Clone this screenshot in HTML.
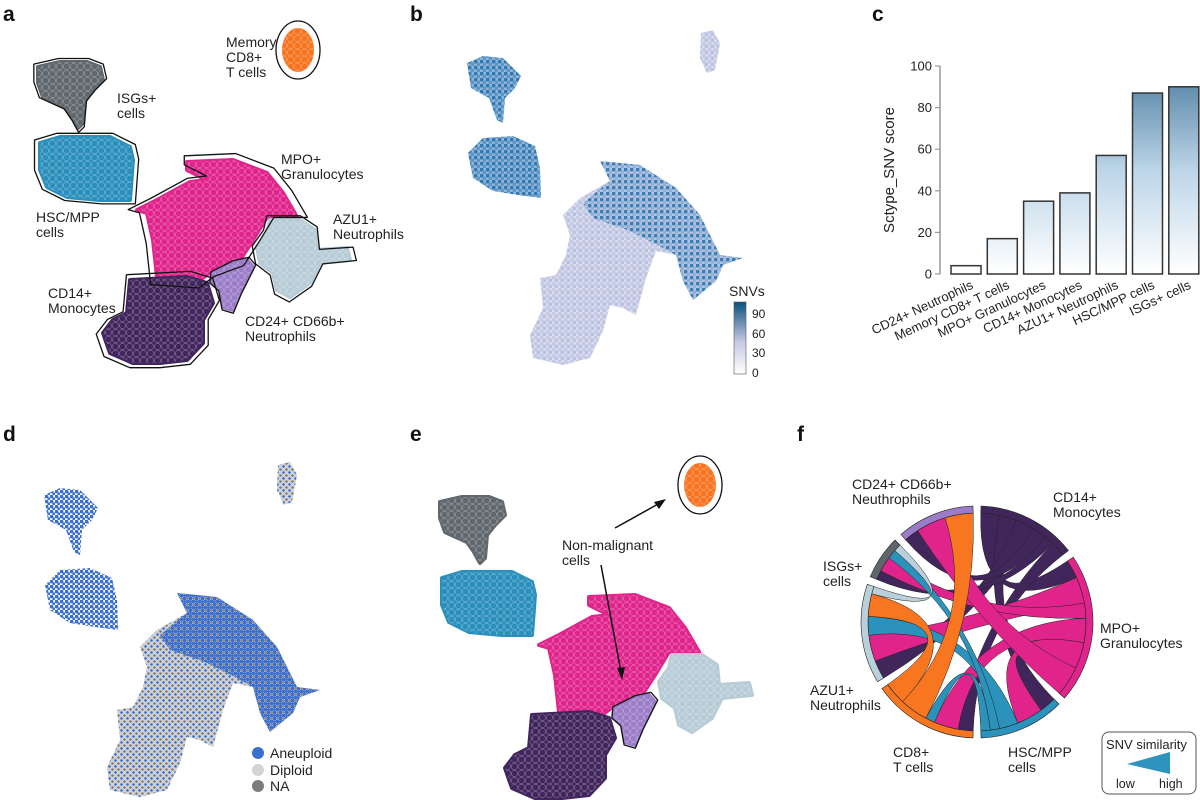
<!DOCTYPE html>
<html><head><meta charset="utf-8"><style>
html,body{margin:0;padding:0;background:#fff;}
svg{display:block;font-family:"Liberation Sans",Arial,sans-serif;}
.lbl{font-size:14px;fill:#222;}
.pl{font-size:21px;font-weight:bold;fill:#111;}
</style></head><body>
<svg id="fig" width="1200" height="800" viewBox="0 0 1200 800">
<defs>
<pattern id="cells" width="7" height="7" patternUnits="userSpaceOnUse"><circle cx="3.5" cy="3.5" r="3.2" fill="none" stroke="#fff" stroke-width="0.5" stroke-opacity="0.45"/></pattern>
<pattern id="dblue" width="5" height="5" patternUnits="userSpaceOnUse"><circle cx="1.5" cy="1.5" r="1.9" fill="#3a6fd0"/><circle cx="4" cy="4" r="1.6" fill="#3a6fd0"/></pattern>
<pattern id="dbmix" width="6" height="6" patternUnits="userSpaceOnUse"><circle cx="1.5" cy="1.5" r="1.9" fill="#3a6fd0"/><circle cx="4.5" cy="4.5" r="1.9" fill="#3a6fd0"/><circle cx="4.5" cy="1.5" r="1.5" fill="#3a6fd0"/><circle cx="1.5" cy="4.5" r="1.5" fill="#8a8a8a"/></pattern>
<pattern id="dgrey" width="6" height="6" patternUnits="userSpaceOnUse"><circle cx="1.5" cy="1.5" r="1.9" fill="#cfcfcf"/><circle cx="4.5" cy="4.5" r="1.9" fill="#d2d2d2"/><circle cx="4.5" cy="1.5" r="1.4" fill="#7c7c7c"/><circle cx="1.5" cy="4.5" r="1.4" fill="#3a6fd0"/></pattern>
<pattern id="bblue" width="6" height="6" patternUnits="userSpaceOnUse"><rect width="6" height="6" fill="#93b6d8"/><circle cx="1.5" cy="1.5" r="2" fill="#2f7ab3"/><circle cx="4.5" cy="4.5" r="2" fill="#5f96c6"/></pattern>
<pattern id="blav" width="6" height="6" patternUnits="userSpaceOnUse"><rect width="6" height="6" fill="#d9dcee"/><circle cx="1.5" cy="1.5" r="2" fill="#c5c9e4"/><circle cx="4.5" cy="4.5" r="2" fill="#b9c2e0"/></pattern>
<pattern id="bedge" width="6" height="6" patternUnits="userSpaceOnUse"><rect width="6" height="6" fill="#b3c3e0"/><circle cx="1.5" cy="1.5" r="2" fill="#3d7fb4"/><circle cx="4.5" cy="4.5" r="2" fill="#8fb1d6"/></pattern>
<linearGradient id="barGrad" gradientUnits="userSpaceOnUse" x1="0" y1="274" x2="0" y2="66"><stop offset="0" stop-color="#ffffff"/><stop offset="0.5" stop-color="#bcd5e8"/><stop offset="1" stop-color="#4c7c9f"/></linearGradient>
<linearGradient id="cbGrad" x1="0" y1="1" x2="0" y2="0"><stop offset="0" stop-color="#ffffff"/><stop offset="0.45" stop-color="#c6c8e3"/><stop offset="1" stop-color="#08507e"/></linearGradient>
</defs>

<text class="pl" x="3" y="21">a</text>
<text class="pl" x="410" y="21">b</text>
<text class="pl" x="872" y="21">c</text>
<text class="pl" x="3" y="441">d</text>
<text class="pl" x="410" y="441">e</text>
<text class="pl" x="797" y="441">f</text>

<g id="panelA"></g>
<g id="panelE"></g>
<g id="panelD"></g>
<g id="panelB"></g>

<g class="lbl">
<text x="226" y="47"><tspan x="226">Memory</tspan><tspan x="226" dy="15">CD8+</tspan><tspan x="226" dy="15">T cells</tspan></text>
<text x="117" y="103"><tspan x="117">ISGs+</tspan><tspan x="117" dy="15">cells</tspan></text>
<text x="281" y="164"><tspan x="281">MPO+</tspan><tspan x="281" dy="15">Granulocytes</tspan></text>
<text x="36" y="222"><tspan x="36">HSC/MPP</tspan><tspan x="36" dy="15">cells</tspan></text>
<text x="333" y="224"><tspan x="333">AZU1+</tspan><tspan x="333" dy="15">Neutrophils</tspan></text>
<text x="48" y="298"><tspan x="48">CD14+</tspan><tspan x="48" dy="15">Monocytes</tspan></text>
<text x="245" y="326"><tspan x="245">CD24+  CD66b+</tspan><tspan x="245" dy="15">Neutrophils</tspan></text>
</g>

<g>
<text x="729" y="296" class="lbl">SNVs</text>
<rect x="734" y="302" width="12" height="72" fill="url(#cbGrad)" stroke="#555" stroke-width="0.6"/>
<g font-size="12" fill="#222">
<text x="752" y="318">90</text><text x="752" y="338">60</text><text x="752" y="357">30</text><text x="752" y="377">0</text>
</g>
</g>

<g>
<circle cx="258" cy="753" r="6" fill="#3a6fd0"/>
<text x="270" y="758" class="lbl">Aneuploid</text>
<circle cx="258" cy="770" r="6" fill="#d3d3d3"/>
<text x="270" y="775" class="lbl">Diploid</text>
<circle cx="258" cy="786" r="6" fill="#7b7b7b"/>
<text x="270" y="791" class="lbl">NA</text>
</g>

<g>
<text x="562" y="550" class="lbl"><tspan x="562">Non-malignant</tspan><tspan x="562" dy="15">cells</tspan></text>
<line x1="615" y1="528" x2="660" y2="503" stroke="#111" stroke-width="1.5"/>
<polygon points="666,499 654,502 659,509" fill="#111"/>
<line x1="601" y1="565" x2="621" y2="672" stroke="#111" stroke-width="1.5"/>
<polygon points="622,680 617,668 625,667" fill="#111"/>
</g>

<g id="panelC"></g>
<g id="panelF"></g>

<g>
<rect x="1102" y="732" width="94" height="62" rx="7" fill="#fff" stroke="#555" stroke-width="1"/>
<text x="1106" y="749" font-size="13" fill="#222">SNV similarity</text>
<polygon points="1127,764 1170,752 1170,774" fill="#2e93bd"/>
<text x="1116" y="788" font-size="12.5" fill="#222">low</text>
<text x="1159" y="788" font-size="12.5" fill="#222">high</text>
</g>
</svg>

<script>
const NS="http://www.w3.org/2000/svg";
function mk(tag,attrs,parent){const e=document.createElementNS(NS,tag);for(const k in attrs)e.setAttribute(k,attrs[k]);if(parent)parent.appendChild(e);return e;}
function pts(arr,dx,dy){return arr.map(p=>(p[0]+dx)+","+(p[1]+dy)).join(" ");}
function grow(arr,s){let cx=0,cy=0;arr.forEach(p=>{cx+=p[0];cy+=p[1];});cx/=arr.length;cy/=arr.length;return arr.map(p=>[cx+(p[0]-cx)*s,cy+(p[1]-cy)*s]);}

const shISG=[[38,67],[60,62],[87,62],[100,67],[103,80],[93,90],[85,100],[83,123],[78,128],[72,117],[65,107],[43,97],[38,83]];
const shHSC=[[40,143],[60,137],[110,137],[130,147],[133,160],[130,200],[100,200],[67,197],[47,187],[40,170]];
const shMPO=[[187,162],[233,160],[267,173],[283,193],[297,217],[267,217],[253,240],[240,260],[213,270],[200,280],[157,277],[153,240],[147,213],[137,210],[157,200],[190,182],[207,180],[187,170]];
const shAZU=[[270,220],[300,220],[315,230],[317,250],[347,248],[350,260],[320,263],[310,283],[290,297],[277,290],[273,273],[260,263],[257,247],[267,233]];
const shCD24=[[213,273],[233,263],[247,260],[253,267],[240,293],[233,310],[223,307],[220,290],[212,283]];
const shCD14=[[130,280],[187,277],[207,283],[213,303],[203,320],[203,343],[187,360],[160,363],[133,363],[110,353],[103,333],[113,320],[127,313]];
const clusters=[["isgs",shISG,"#60676d"],["hsc",shHSC,"#2b8fbc"],["mpo",shMPO,"#e0248c"],["azu1",shAZU,"#b7ccd7"],["cd24",shCD24,"#9a7cc8"],["cd14",shCD14,"#41255d"]];

function drawClusters(g,dx,dy,outlines){
  clusters.forEach(c=>{
    const p=mk("polygon",{points:pts(c[1],dx,dy),fill:c[2],"stroke":c[2],"stroke-width":4,"stroke-linejoin":"round"},g);
    
    
    mk("polygon",{points:pts(c[1],dx,dy),fill:"url(#cells)"},g);
  });
  const o=mk("ellipse",{cx:298+dx,cy:50+dy,rx:16,ry:22,fill:"#f7731f"},g);
  
  
  mk("ellipse",{cx:298+dx,cy:50+dy,rx:16,ry:22,fill:"url(#cells)"},g);
  outlines.forEach(k=>{
    if(k==="cd8"){mk("ellipse",{cx:298+dx,cy:50+dy,rx:22,ry:29,fill:"none",stroke:"#111","stroke-width":1.3},g);return;}
    const c=clusters.find(x=>x[0]===k);
    mk("polygon",{points:pts(grow(c[1],1.12),dx,dy),fill:"none",stroke:"#111","stroke-width":1.3,"stroke-linejoin":"round"},g);
  });
}
drawClusters(document.getElementById("panelA"),0,0,["isgs","hsc","mpo","azu1","cd24","cd14","cd8"]);
drawClusters(document.getElementById("panelE"),402,435,["cd24","cd8"]);

const dISG=[[44,495],[60,488],[80,490],[98,508],[92,520],[82,530],[80,555],[74,552],[66,530],[48,520]];
const dHSC=[[45,585],[60,570],[90,568],[112,578],[117,600],[118,630],[95,627],[70,623],[50,610]];
const dMain=[[177,593],[217,597],[253,620],[277,647],[287,667],[297,687],[320,690],[300,697],[293,713],[270,732],[260,713],[253,687],[233,683],[223,710],[213,747],[200,740],[187,737],[180,763],[167,790],[140,797],[110,790],[107,767],[120,740],[117,710],[133,707],[143,687],[147,667],[140,647],[157,630],[187,613]];
const dArch=[[177,593],[217,597],[253,620],[277,647],[287,667],[297,687],[320,690],[300,697],[293,713],[270,732],[260,713],[253,687],[233,676],[205,662],[170,650],[160,635],[187,613]];
const dCD8=[[278,465],[290,462],[297,475],[292,502],[284,505],[277,490]];
function drawSparse(g,dx,dy,fills,name){
  [["isgs",dISG,fills[0]],["hsc",dHSC,fills[0]],["main",dMain,fills[1]],["arch",dArch,fills[2]],["cd8",dCD8,fills[3]]].forEach(c=>{
    const p=mk("polygon",{points:pts(c[1],dx,dy),fill:c[2],"stroke-linejoin":"round"},g);
    
    
  });
}
drawSparse(document.getElementById("panelD"),0,0,["url(#dblue)","url(#dgrey)","url(#dbmix)","url(#dgrey)"],"ploidy");
drawSparse(document.getElementById("panelB"),423,-432,["url(#bblue)","url(#blav)","url(#bedge)","url(#blav)"],"snv");

const barCats=["CD24+ Neutrophils","Memory CD8+ T cells","MPO+ Granulocytes","CD14+ Monocytes","AZU1+ Neutrophils","HSC/MPP cells","ISGs+ cells"];
const barVals=[4,17,35,39,57,87,90];
const yTicks=[0,20,40,60,80,100];
(function(){
  const g=document.getElementById("panelC");
  const x0=945,step=36.3,bw=30,y0=274,y1=66,vmax=100;
  const ys=v=>y0-(v/vmax)*(y0-y1);
  const ax=mk("line",{x1:940,y1:ys(100),x2:940,y2:ys(0),stroke:"#999","stroke-width":1.5},g);
  
  
  yTicks.forEach(t=>{
    mk("line",{x1:935,y1:ys(t),x2:940,y2:ys(t),stroke:"#999","stroke-width":1.2},g);
    const tx=mk("text",{x:932,y:ys(t)+4.5,"text-anchor":"end","font-size":13,fill:"#222"},g);
    tx.textContent=t;
    
    
  });
  const yl=mk("text",{x:0,y:0,"font-size":15,fill:"#222","text-anchor":"middle",transform:"translate(894,170) rotate(-90)"},g);
  yl.textContent="Sctype_SNV score";
  
  
  barVals.forEach((v,i)=>{
    const bx=x0+6+i*step;
    const r=mk("rect",{x:bx,y:ys(v),width:bw,height:ys(0)-ys(v),fill:"url(#barGrad)",stroke:"#333","stroke-width":1.5},g);
    
    
    const cx=bx+bw/2+8;
    const t=mk("text",{x:0,y:0,"font-size":13,fill:"#222","text-anchor":"end",transform:`translate(${cx},288) rotate(-25)`},g);
    t.textContent=barCats[i];
    
    
  });
})();

const segNames=["CD14+ Monocytes","MPO+ Granulocytes","HSC/MPP cells","CD8+ T cells","AZU1+ Neutrophils","ISGs+ cells","CD24+ CD66b+ Neutrophils"];
const segColors=["#41265c","#e0248c","#2b93bb","#f7761f","#b9d0da","#5e666c","#9b7cc8"];
const chordSrc=[0,0,0,0,0,0,1,1,1,1,1,2,2,2,3,3,4];
const chordTgt=[1,2,4,6,5,3,4,5,3,2,6,4,5,3,6,4,5];
const chordW=[10,9,10,8,5,8,14,8,13,14,16,10,5,5,15,12,4];
(function(){
  const g=document.getElementById("panelF");
  const cx=977,cy=622,R=116,ri=109,gap=4,start=2;
  const n=segNames.length;
  const tot=new Array(n).fill(0);
  chordW.forEach((w,i)=>{tot[chordSrc[i]]+=w;tot[chordTgt[i]]+=w;});
  const sum=tot.reduce((a,b)=>a+b,0);
  const k=(360-n*gap)/sum;
  const segStart=[];let a=start;
  for(let i=0;i<n;i++){segStart.push(a);a+=tot[i]*k+gap;}
  const cursor=segStart.slice();
  const P=(ang,r)=>{const t=ang*Math.PI/180;return [cx+r*Math.sin(t),cy-r*Math.cos(t)];};
  const f=p=>p[0].toFixed(2)+" "+p[1].toFixed(2);
  const chordG=mk("g",{},g);
  chordW.forEach((w,i)=>{
    const s=chordSrc[i],t=chordTgt[i];
    const a0=cursor[s],a1=a0+w*k;cursor[s]=a1;
    const b0=cursor[t],b1=b0+w*k;cursor[t]=b1;
    const d=`M${f(P(a0,ri))} A${ri} ${ri} 0 0 1 ${f(P(a1,ri))} Q${cx} ${cy} ${f(P(b0,ri))} A${ri} ${ri} 0 0 1 ${f(P(b1,ri))} Q${cx} ${cy} ${f(P(a0,ri))} Z`;
    const p=mk("path",{d:d,fill:segColors[s],stroke:"#222","stroke-width":0.5},chordG);
    
    
  });
  for(let i=0;i<n;i++){
    const a0=segStart[i],a1=a0+tot[i]*k,large=(a1-a0)>180?1:0;
    const d=`M${f(P(a0,R))} A${R} ${R} 0 ${large} 1 ${f(P(a1,R))} L${f(P(a1,ri))} A${ri} ${ri} 0 ${large} 0 ${f(P(a0,ri))} Z`;
    const p=mk("path",{d:d,fill:segColors[i],stroke:"#222","stroke-width":0.6},g);
    
    
  }
  const labs=[[1053,502,["CD14+","Monocytes"]],[1100,633,["MPO+","Granulocytes"]],[1008,757,["HSC/MPP","cells"]],[893,757,["CD8+","T cells"]],[810,695,["AZU1+","Neutrophils"]],[823,571,["ISGs+","cells"]],[852,489,["CD24+ CD66b+","Neuthrophils"]]];
  labs.forEach((L,i)=>{
    const t=mk("text",{x:L[0],y:L[1],"font-size":14,fill:"#222"},g);
    
    
    L[2].forEach((s,j)=>{const ts=mk("tspan",{x:L[0],dy:j?15:0},t);ts.textContent=s;});
  });
})();
</script>
</body></html>
